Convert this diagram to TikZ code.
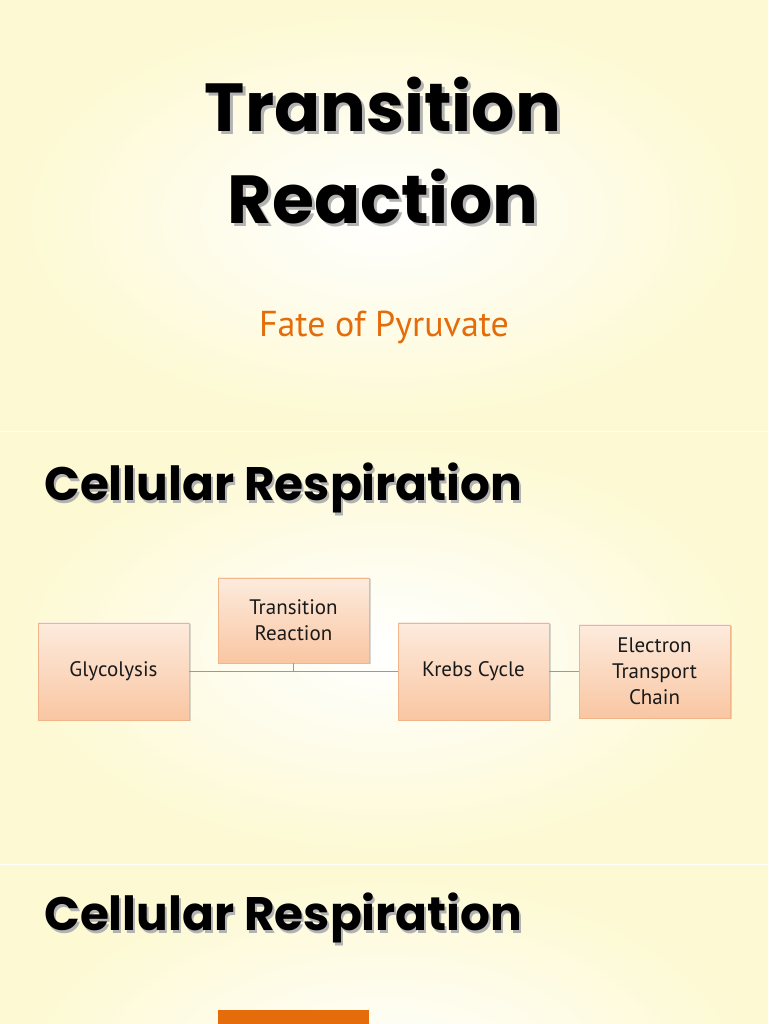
\documentclass[tikz,border=0pt]{standalone}
\usepackage{fontspec}
\setmainfont{Poppins}
\newfontfamily\narrowf{PT Sans}
\usetikzlibrary{shadows,fadings}
\definecolor{bgy}{HTML}{FDF9D2}
\definecolor{boxtop}{HTML}{FDEBDD}
\definecolor{boxbot}{HTML}{F9C6A2}
\definecolor{boxline}{HTML}{F2B58A}
\definecolor{lineor}{HTML}{D9894A}
\definecolor{orng}{HTML}{E46C0A}
\begin{document}
\begin{tikzpicture}[x=1pt,y=1pt,
  slide/.style={inner color=white,outer color=bgy},
  ttl/.style={font=\bfseries\fontsize{68}{92}\selectfont,align=center,text=black,inner sep=0},
  hd/.style={font=\bfseries\fontsize{47}{50}\selectfont,text=black,anchor=west,inner sep=0},
  pbox/.style={draw=boxline,top color=boxtop,bottom color=boxbot,minimum width=151,
    align=center,font=\narrowf\fontsize{21}{26}\selectfont,text=black!90,inner sep=2,
    drop shadow={shadow xshift=1.5pt,shadow yshift=-1.5pt,opacity=0.3}},
  conn/.style={draw=lineor,line width=0.8pt}]
\useasboundingbox (0,0) rectangle (768,1024);
\fill[slide] (0,592) rectangle (768,1024);
\fill[slide] (0,159) rectangle (768,592);
\fill[slide] (0,-270) rectangle (768,159);
\draw[white!90!bgy,line width=1pt] (0,592)--(768,592) (0,159)--(768,159);
% titles
\node[ttl,text=black!30] at (386,870) {Transition\\Reaction};
\node[ttl] (title) at (383,873) {Transition\\Reaction};
\node[font=\narrowf\fontsize{36}{40}\selectfont,text=orng] (sub) at (384,697) {Fate of Pyruvate};
\node[hd,text=black!30] at (46,533) {Cellular Respiration};
\node[hd] (h1) at (44,536) {Cellular Respiration};
\node[hd,text=black!30] at (46,103) {Cellular Respiration};
\node[hd] (h2) at (44,106) {Cellular Respiration};
% boxes
\node[pbox,minimum height=97] (gly) at (113.5,352.5) {Glycolysis};
\node[pbox,minimum height=85] (tr) at (293.5,403.5) {Transition\\Reaction};
\node[pbox,minimum height=97] (kr) at (473.5,352.5) {Krebs Cycle};
\node[pbox,minimum height=93] (etc) at (654.5,352.5) {Electron\\Transport\\Chain};
\coordinate (j) at (tr.south |- gly.east);
\draw[conn] (gly.east) -- (kr.west);
\draw[conn] (tr.south) -- (j);
\draw[conn] (kr.east) -- (etc.west);
\fill[orng] (218,0) rectangle (369,14);
\end{tikzpicture}
\end{document}
